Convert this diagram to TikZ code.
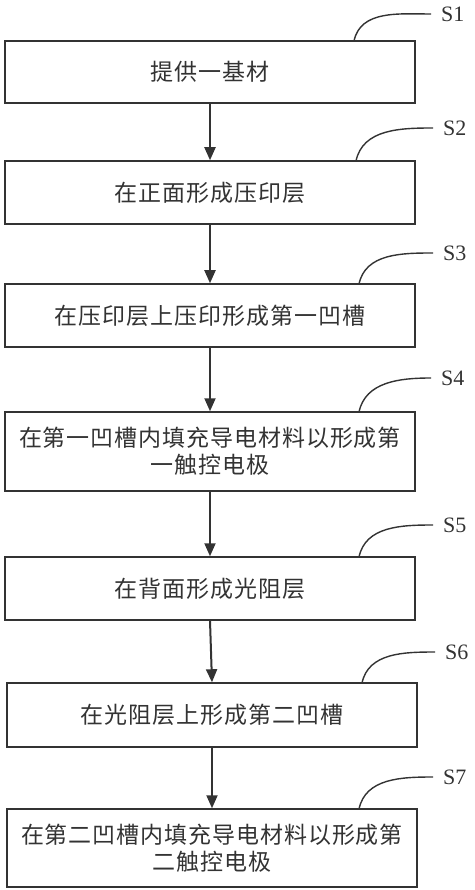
\documentclass[tikz,border=0pt]{standalone}
\usepackage{fontspec}
\setmainfont{Liberation Serif}
\newfontfamily\cjk{Noto Sans CJK SC}[LetterSpace=4]
\usetikzlibrary{arrows.meta}
\definecolor{ink}{HTML}{333333}
\tikzset{
  stepbox/.style={draw=ink, line width=1.5pt, minimum width=410pt, align=center,
    font=\cjk\fontsize{23pt}{27pt}\selectfont, text=ink, inner sep=0pt},
  flow/.style={draw=ink, line width=2pt, -{Triangle[width=11pt,length=13pt]}},
  tag/.style={font=\fontsize{22pt}{24pt}\selectfont, text=ink, inner ysep=1pt, inner xsep=10pt},
  lead/.style={draw=ink, line width=1.4pt}
}
\begin{document}
\begin{tikzpicture}[x=1pt,y=-1pt]
\useasboundingbox (0,0) rectangle (474,890);
\node[stepbox, minimum height=62pt] (b1) at (210,72) {提供一基材};
\node[stepbox, minimum height=63pt] (b2) at (210,192.5) {在正面形成压印层};
\node[stepbox, minimum height=63pt] (b3) at (210,315.5) {在压印层上压印形成第一凹槽};
\node[stepbox, minimum height=79pt] (b4) at (210,451.5) {在第一凹槽内填充导电材料以形成第\\一触控电极};
\node[stepbox, minimum height=63pt] (b5) at (210,588.5) {在背面形成光阻层};
\node[stepbox, minimum height=64pt] (b6) at (212,715) {在光阻层上形成第二凹槽};
\node[stepbox, minimum height=78pt] (b7) at (212,848) {在第二凹槽内填充导电材料以形成第\\二触控电极};

\draw[flow] (b1.south) -- (b2.north);
\draw[flow] (b2.south) -- (b3.north);
\draw[flow] (b3.south) -- (b4.north);
\draw[flow] (b4.south) -- (b5.north);
\draw[flow] (b5.south) -- (b6.north);
\draw[flow] (b6.south) -- (b7.north);

\node[tag, anchor=west] (s1) at (431,14) {S1};
\node[tag, anchor=west] (s2) at (433,128) {S2};
\node[tag, anchor=west] (s3) at (433,253) {S3};
\node[tag, anchor=west] (s4) at (431,378) {S4};
\node[tag, anchor=west] (s5) at (433,525) {S5};
\node[tag, anchor=west] (s6) at (435,652) {S6};
\node[tag, anchor=west] (s7) at (433,777) {S7};

\coordinate (c1) at (354,41);
\coordinate (c2) at (356,161);
\coordinate (c3) at (359,284);
\coordinate (c4) at (359,412);
\coordinate (c5) at (359,557);
\coordinate (c6) at (362,683);
\coordinate (c7) at (359,809);

\draw[lead] (c1) to[out=78,in=180] (s1.west);
\draw[lead] (c2) to[out=78,in=180] (s2.west);
\draw[lead] (c3) to[out=78,in=180] (s3.west);
\draw[lead] (c4) to[out=78,in=180] (s4.west);
\draw[lead] (c5) to[out=78,in=180] (s5.west);
\draw[lead] (c6) to[out=78,in=180] (s6.west);
\draw[lead] (c7) to[out=78,in=180] (s7.west);
\end{tikzpicture}
\end{document}
